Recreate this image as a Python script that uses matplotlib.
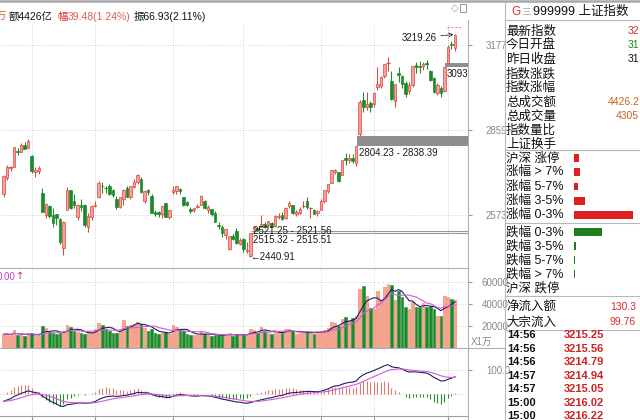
import numpy as np
import pandas as pd
import matplotlib
matplotlib.use('Agg')
import matplotlib.pyplot as plt
from matplotlib.lines import Line2D
from matplotlib.patches import Rectangle
from matplotlib.ticker import NullLocator, FixedLocator, NullFormatter

plt.rcParams['font.family'] = ['Liberation Sans', 'Noto Sans CJK SC', 'DejaVu Sans']

# ---------------- data ----------------
trade_days = {
    '2018-09': [18, 19, 20, 21, 25, 26, 27, 28],
    '2018-10': [8, 9, 10, 11, 12, 15, 16, 17, 18, 19, 22, 23, 24, 25, 26, 29, 30, 31],
    '2018-11': [1, 2, 5, 6, 7, 8, 9, 12, 13, 14, 15, 16, 19, 20, 21, 22, 23, 26, 27, 28, 29, 30],
    '2018-12': [3, 4, 5, 6, 7, 10, 11, 12, 13, 14, 17, 18, 19, 20, 21, 24, 25, 26, 27, 28],
    '2019-01': [2, 3, 4, 7, 8, 9, 10, 11, 14, 15, 16, 17, 18, 21, 22, 23, 24, 25, 28, 29, 30, 31],
    '2019-02': [1, 11, 12, 13, 14, 15, 18, 19, 20, 21, 22, 25, 26, 27, 28],
    '2019-03': [1, 4, 5, 6, 7, 8, 11, 12, 13, 14, 15, 18, 19, 20, 21, 22, 25, 26, 27, 28, 29],
    '2019-04': [1, 2, 3],
}

opens = [2642, 2693, 2728, 2731, 2786, 2783, 2806, 2795,
         2768, 2714, 2717, 2643, 2574, 2600, 2571, 2577, 2560, 2470, 2590, 2653, 2618, 2567, 2604, 2605, 2536, 2567,
         2600, 2630, 2668, 2660, 2668, 2655, 2625, 2598, 2625, 2660, 2630, 2663, 2680, 2690, 2618, 2654, 2635, 2583,
         2582, 2575, 2611, 2565,
         2647, 2649, 2657, 2630, 2613, 2593, 2590, 2599, 2606, 2619, 2590, 2592, 2580, 2541, 2536, 2510, 2465, 2505,
         2523, 2482,
         2498, 2461, 2446, 2529, 2530, 2535, 2543, 2540, 2546, 2537, 2567, 2572, 2562, 2602, 2604, 2575, 2580, 2600,
         2616, 2594, 2590, 2580,
         2589, 2619, 2651, 2678, 2713, 2715, 2702, 2761, 2756, 2760, 2743, 2843, 2968, 2943, 2955,
         2953, 3015, 3021, 3057, 3106, 3038, 2963, 3068, 3057, 3030, 3000, 3024, 3100, 3094, 3096, 3105, 3076, 3051,
         2993, 3010, 3001,
         3107, 3181, 3164]
highs = [2704, 2736, 2734, 2798, 2794, 2812, 2818, 2827,
         2772, 2729, 2733, 2659, 2610, 2604, 2594, 2577, 2563, 2553, 2665, 2653, 2640, 2608, 2625, 2608, 2580, 2604,
         2616, 2683, 2681, 2668, 2675, 2657, 2634, 2630, 2658, 2667, 2668, 2690, 2707, 2696, 2655, 2656, 2640, 2590,
         2584, 2602, 2611, 2588,
         2667, 2667, 2660, 2630, 2619, 2598, 2595, 2608, 2637, 2621, 2606, 2593, 2585, 2550, 2540, 2528, 2507, 2513,
         2531, 2499,
         2500, 2488, 2515.32, 2536, 2531, 2574, 2551, 2555, 2549, 2571, 2579, 2582, 2598, 2618, 2605, 2589, 2597, 2618,
         2630, 2599, 2591, 2590,
         2625, 2654, 2673, 2721, 2723, 2715, 2755, 2780, 2774, 2775, 2804.23, 2969, 2996, 2997, 2965,
         2997, 3090, 3056, 3103, 3129.94, 3075, 3027, 3091, 3059, 3040, 3034, 3097, 3109, 3115, 3110, 3117, 3078, 3055,
         3029, 3020, 3093,
         3176, 3191, 3219.26]
lows = [2631, 2686, 2717, 2730, 2771, 2781, 2791, 2794,
        2710, 2697, 2706, 2583, 2562, 2564, 2536, 2540, 2481, 2449.2, 2590, 2593, 2595, 2557, 2584, 2535, 2520, 2558,
        2598, 2627, 2644, 2643, 2638, 2630, 2593, 2596, 2605, 2630, 2625, 2660, 2675, 2645, 2612, 2637, 2579, 2569,
        2566, 2564, 2566, 2560,
        2640, 2641, 2639, 2602, 2603, 2580, 2583, 2596, 2604, 2592, 2578, 2570, 2549, 2527, 2504, 2497, 2462, 2494,
        2482, 2477,
        2456, 2455, 2440.91, 2515.51, 2521.56, 2533, 2531, 2536, 2533, 2535, 2560, 2557, 2560, 2596, 2577, 2569, 2575,
        2595, 2592, 2564, 2575, 2569,
        2587, 2610, 2645, 2676, 2707, 2680, 2702, 2738, 2745, 2745, 2735, 2838.39, 2924, 2931, 2923,
        2940, 3006, 3011, 3050, 3076, 2969, 2941, 3036, 3011, 2979, 2988, 3015, 3069, 3068, 3080, 3085, 3040, 2993,
        2985, 2980, 2998,
        3106, 3162, 3152.33]
closes = [2699.95, 2730.85, 2729.24, 2797.49, 2781.14, 2806.81, 2791.77, 2821.35,
          2716.51, 2721.01, 2725.84, 2583.46, 2606.91, 2568.10, 2546.33, 2561.61, 2486.42, 2550.47, 2654.88, 2594.83,
          2603.30, 2603.80, 2598.85, 2542.10, 2568.05, 2602.78,
          2606.24, 2676.48, 2665.43, 2659.36, 2641.34, 2635.63, 2598.87, 2630.52, 2654.88, 2632.24, 2668.17, 2679.11,
          2703.51, 2645.43, 2651.51, 2645.85, 2579.48, 2575.81, 2574.68, 2601.74, 2567.44, 2588.19,
          2654.80, 2665.96, 2649.81, 2605.18, 2605.89, 2584.58, 2594.09, 2602.15, 2634.05, 2593.74, 2597.97, 2576.65,
          2549.56, 2536.27, 2516.25, 2527.01, 2504.82, 2498.29, 2483.09, 2493.90,
          2465.29, 2464.36, 2514.87, 2533.09, 2526.46, 2544.34, 2535.10, 2553.83, 2535.77, 2570.42, 2570.34, 2559.64,
          2596.01, 2610.51, 2579.70, 2581.00, 2591.69, 2601.72, 2596.98, 2594.25, 2575.58, 2584.57,
          2618.23, 2653.90, 2671.89, 2721.07, 2719.70, 2682.39, 2754.36, 2755.65, 2761.22, 2751.80, 2804.23, 2961.28,
          2941.52, 2953.82, 2940.95,
          2994.01, 3027.58, 3054.25, 3102.10, 3106.42, 2969.86, 3026.99, 3060.31, 3026.95, 2990.69, 3021.75, 3096.42,
          3090.98, 3090.64, 3101.46, 3104.15, 3043.03, 2997.10, 3022.72, 2994.94, 3090.76,
          3170.36, 3176.82, 3216.22]
volumes = [12500, 13000, 11500, 16000, 12000, 11500, 11000, 12500,
           14000, 11000, 11500, 20000, 18000, 14500, 13500, 12500, 14000, 15500, 21000, 19000, 15000, 14500, 13500,
           13000, 14000, 13500,
           17500, 23000, 21000, 17000, 15500, 13500, 13500, 15000, 25500, 20000, 21000, 22000, 23500, 21500, 18500,
           15500, 17000, 13500, 12500, 14000, 14500, 13000,
           21000, 19000, 16500, 15500, 12500, 12000, 11500, 12000, 15000, 13000, 11500, 11000, 12000, 12000, 12500,
           11000, 13500, 11000, 12500, 12000,
           12500, 12000, 17000, 16500, 14000, 19500, 15500, 14000, 12500, 15500, 14500, 13500, 17000, 17000, 15000,
           12500, 13500, 15000, 15500, 13500, 12500, 14500,
           15500, 16500, 18500, 24000, 22500, 20000, 26000, 28000, 25000, 27500, 29000,
           53500, 56500, 47000, 36000, 35500, 52000, 44000, 55000, 58000, 57000, 43500, 52000, 46500, 37500, 35500,
           41500, 37000, 37000, 40500, 37000, 38500, 35500, 29500, 29000, 47500, 46000, 44500, 43500]

# MACD seeds (state before the first visible day, read from the left edge of the MACD pane)
ema12_seed, ema26_seed, dea_seed = 2680.0, 2715.0, -30.0

price_ticks = [2573, 2859, 3177]
vol_ticks = [20000, 40000, 60000]
macd_ticks = [100]

gaps = [  # (low, high, start index, label)
    (2804.23, 2838.39, 100, '2804.23 - 2838.39'),
    (3093.0, 3106.0, 125, '3093'),
    (2515.32, 2515.51, 70, '2515.32 - 2515.51'),
    (2521.25, 2521.56, 70, '2521.25 - 2521.56'),
]
gap_label_offsets = [-1.5, -1.5, -1.5, 3.5]   # points, vertical offset of each label
low_mark = (70, 2440.91)
high_mark = (128, 3219.26)

title_parts = [('万', '#d0602a'), ('额4426亿', '#111111'), ('幅', '#e02828'),
               ('39.48(1.24%)', '#e05a5a'), ('振66.93(2.11%)', '#111111')]
title_gaps = [0, 0, 4, 0, 4]   # px before each part

info_labels = ['最新指数', '今日开盘', '昨日收盘', '指数涨跌', '指数涨幅', '总成交额', '总成交量', '指数量比', '上证换手']
info_values = ['32', '31', '31', '', '', '4426.2', '4305', '', '']
info_colors = ['#d42a2a', '#1a8a1a', '#111111', '#111111', '#111111', '#c8641e', '#c8641e', '#111111', '#111111']

up_labels = ['沪深 涨停', '涨幅 > 7%', '涨幅 5-7%', '涨幅 3-5%', '涨幅 0-3%']
up_counts = [53, 64, 42, 117, 625]
down_labels = ['跌幅 0-3%', '跌幅 3-5%', '跌幅 5-7%', '跌幅 > 7%', '沪深 跌停']
down_counts = [297, 21, 8, 6, 5]

flow_labels = ['净流入额', '大宗流入']
flow_values = ['130.3', '99.76']

tick_times = ['14:56', '14:56', '14:56', '14:57', '14:57', '15:00', '15:00']
tick_prices = ['3215.25', '3215.56', '3214.79', '3214.94', '3215.05', '3216.02', '3216.22']

# ---------------- derived ----------------
dates = []
for ym, days in trade_days.items():
    for d in days:
        dates.append(pd.Timestamp(f'{ym}-{d:02d}'))
dates = pd.DatetimeIndex(dates)
o = np.array(opens, float); h = np.array(highs, float)
l = np.array(lows, float); c = np.array(closes, float)
v = np.array(volumes, float)
n = len(c)
x = np.arange(n)
month_starts = [i for i in range(1, n) if dates[i].month != dates[i - 1].month]

ema12, ema26, dea = ema12_seed, ema26_seed, dea_seed
difs, deas = [], []
for cc in c:
    ema12 += (cc - ema12) * 2 / 13
    ema26 += (cc - ema26) * 2 / 27
    dif = ema12 - ema26
    dea += (dif - dea) * 2 / 10
    difs.append(dif); deas.append(dea)
difs = np.array(difs); deas = np.array(deas)
hist = 2 * (difs - deas)

ma5 = pd.Series(v).rolling(5, min_periods=1).mean()
ma10 = pd.Series(v).rolling(10, min_periods=1).mean()

# ---------------- figure ----------------
W, H = 640, 420
fig = plt.figure(figsize=(6.4, 4.2), dpi=100)
fig.patch.set_facecolor('white')
renderer = fig.canvas.get_renderer()


def FX(px):
    return px / W


def FY(py):
    return 1 - py / H


def fline(x0, y0, x1, y1, color='#b4b4b4', lw=0.8, ls='-'):
    fig.add_artist(Line2D([FX(x0), FX(x1)], [FY(y0), FY(y1)], color=color, lw=lw, ls=ls))


RIGHT = 468
XLIM = (-1.0, 131.7)
UP_EDGE, UP_FACE, DN = '#e0443c', '#f5a09a', '#1c8a2a'
GRID = dict(color='#c4c4c4', lw=0.6, ls=(0, (1, 2)))

ax = fig.add_axes([0, FY(268), FX(RIGHT), (268 - 24) / H])
axv = fig.add_axes([0, FY(348), FX(RIGHT), (348 - 268) / H])
axm = fig.add_axes([0, FY(416), FX(RIGHT), (416 - 348) / H])

for a in (ax, axv, axm):
    a.set_xlim(*XLIM)
    for s in a.spines.values():
        s.set_visible(False)
    a.set_xticks([])
    a.yaxis.tick_right()
    a.tick_params(axis='y', length=3, color='#999999', labelcolor='#888888', labelsize=7)
    for m in month_starts:
        a.axvline(m, zorder=0, **GRID)

# price pane
ax.set_yscale('log')
ax.set_ylim(2408.7, 3260.9)
ax.yaxis.set_minor_locator(NullLocator())
ax.yaxis.set_minor_formatter(NullFormatter())
ax.yaxis.set_major_locator(FixedLocator(price_ticks))
ax.set_yticklabels([str(t) for t in price_ticks])
ax.tick_params(axis='y', pad=10)
for t in price_ticks:
    ax.axhline(t, zorder=0, **GRID)

up = c >= o
edge_cols = np.where(up, UP_EDGE, DN)
face_cols = np.where(up, UP_FACE, DN)
ax.vlines(x, l, h, colors=edge_cols, lw=0.75, zorder=2)
ax.bar(x, np.abs(c - o), bottom=np.minimum(o, c), width=0.72, color=face_cols,
       edgecolor=edge_cols, linewidth=0.5, zorder=3)
doji = np.abs(c - o) < 2.0
ax.hlines(c[doji], x[doji] - 0.45, x[doji] + 0.45, colors=edge_cols[doji], lw=0.8, zorder=3)

for (lo, hi, i0, lab), dy in zip(gaps, gap_label_offsets):
    if hi - lo > 5:
        ax.fill_between([i0 + 0.3, XLIM[1]], lo, hi, color='#8e8e8e', lw=0, zorder=1)
    else:
        ax.hlines((lo + hi) / 2, i0 + 0.3, XLIM[1], color='#9a9a9a', lw=0.8, zorder=1)
    ax.annotate(lab, xy=(i0 + 0.3, lo), xytext=(1, dy), textcoords='offset points',
                va='top', ha='left', fontsize=7, color='#1a1a1a')

ax.annotate('←' + f'{low_mark[1]:.2f}', xy=low_mark, xytext=(0, 0), textcoords='offset points',
            va='center', ha='left', fontsize=7, color='#1a1a1a')
ax.annotate(f'{high_mark[1]:.2f}', xy=high_mark, xytext=(-13, -2.5), textcoords='offset points',
            va='center', ha='right', fontsize=7, color='#1a1a1a',
            arrowprops=dict(arrowstyle='->', color='#222222', lw=0.6, ls=(0, (2, 1)),
                            shrinkA=1, shrinkB=1))

# volume pane
axv.set_ylim(0, 72700)
axv.yaxis.set_major_locator(FixedLocator(vol_ticks))
axv.set_yticklabels([str(t) for t in vol_ticks])
axv.tick_params(axis='y', pad=7)
for t in vol_ticks:
    axv.axhline(t, zorder=0, **GRID)
vface = np.where(up, '#f6a68f', DN)
vedge = np.where(up, '#ee7a66', DN)
axv.bar(x, v, width=0.72, color=vface, edgecolor=vedge, linewidth=0.4, zorder=2)
axv.plot(x, ma5, color='#1e1e66', lw=0.8, zorder=3)
axv.plot(x, ma10, color='#d45ad4', lw=0.8, zorder=3)

# MACD pane
axm.set_ylim(-91.7, 191.7)
axm.yaxis.set_major_locator(FixedLocator(macd_ticks))
axm.set_yticklabels(['100.0'])
axm.tick_params(axis='y', pad=10)
axm.axhline(0, zorder=0, **GRID)
axm.axhline(100, zorder=0, **GRID)
axm.vlines(x, 0, hist, colors=np.where(hist >= 0, '#e0786e', '#2a8a2a'), lw=0.8, zorder=2)
axm.plot(x, difs, color='#1e1e66', lw=0.8, zorder=3)
axm.plot(x, deas, color='#d45ad4', lw=0.8, zorder=3)
axm.spines['bottom'].set_visible(True)
axm.spines['bottom'].set_color('#a0a0a0')
axm.set_xticks(month_starts)
axm.tick_params(axis='x', length=3, color='#999999', labelbottom=False)

# frame lines
fline(0, 1.2, W, 1.2, color='#a8a8a8', lw=1.8)
fline(RIGHT, 20, RIGHT, 420, color='#b0b0b0')
fline(0, 268, RIGHT, 268, color='#b0b0b0')
fline(0, 348, 505, 348, color='#b0b0b0')
fline(505, 3, 505, 420, color='#b8b8b8')
fline(505, 20, W, 20, color='#b8b8b8')
for yy in (150, 223, 296, 330):
    fline(505, yy, W, yy, color='#b8b8b8')
fline(447, 27, 461, 27, color='#e070a0', lw=0.7, ls=(0, (2, 2)))
fline(448, 27, 448, 62, color='#e070a0', lw=0.6, ls=(0, (1, 2)))

# title strip (parts chained by their measured widths)
px = -4
for (txt, col), gap in zip(title_parts, title_gaps):
    if txt == '额4426亿':
        px = 9
    px += gap
    t = fig.text(FX(px), FY(17), txt, color=col, fontsize=7.5, va='center', ha='left')
    px = t.get_window_extent(renderer).x1

fig.text(FX(455), FY(8), '◇', color='#999999', fontsize=7, va='center', ha='center',
         family='DejaVu Sans')
fig.add_artist(Rectangle((FX(460), FY(12)), 6 / W, 8 / H, fill=False, ec='#999999', lw=0.7))
fig.text(FX(15), FY(277), '0.00', color='#c040c0', fontsize=7, va='center', ha='right')
fig.text(FX(15.5), FY(276), '↑', color='#e02828', fontsize=7, va='center', ha='left',
         family='DejaVu Sans')
fig.text(FX(471), FY(342), 'X1万', color='#888888', fontsize=7, va='center', ha='left')

# right info panel
cjk = 'Noto Sans CJK SC'
fig.text(FX(511), FY(12), 'G', color='#e03030', fontsize=8.5, va='center', ha='left')
fig.text(FX(521), FY(12), '三', color='#aaaaaa', fontsize=7, va='center', ha='left', family=cjk)
fig.text(FX(533), FY(12), '999999 上证指数', color='#111111', fontsize=9, va='center', ha='left')

for k, (lab, val, col) in enumerate(zip(info_labels, info_values, info_colors)):
    yy = 31 + 14.2 * k
    fig.text(FX(506), FY(yy), lab, fontsize=9, va='center', ha='left', color='#111111', family=cjk)
    if val:
        xpos = 628 if len(val) <= 2 else (608 if '.' in val else 616)
        fig.text(FX(xpos), FY(yy), val, fontsize=7.5, va='center', ha='left', color=col)

for k, lab in enumerate(up_labels):
    fig.text(FX(506), FY(158 + 14.25 * k), lab, fontsize=9, va='center', ha='left', color='#111111')
for k, lab in enumerate(down_labels):
    fig.text(FX(506), FY(232 + 14 * k), lab, fontsize=9, va='center', ha='left', color='#111111')

axu = fig.add_axes([FX(574), FY(222.1), 66 / W, 71.25 / H])
axd = fig.add_axes([FX(574), FY(295), 66 / W, 70 / H])
for a, vals, col in ((axu, up_counts, '#e02020'), (axd, down_counts, '#1e7e1e')):
    a.barh(np.arange(len(vals)), vals, height=0.55, color=col, lw=0)
    a.set_xlim(0, 700)
    a.set_ylim(4.5, -0.5)
    a.axis('off')

for k, (lab, val) in enumerate(zip(flow_labels, flow_values)):
    yy = 307 + 15 * k
    fig.text(FX(506), FY(yy), lab, fontsize=9, va='center', ha='left', color='#111111', family=cjk)
    fig.text(FX(610), FY(yy), val, fontsize=7.5, va='center', ha='left', color='#d42a2a')

for k, (tt, pp) in enumerate(zip(tick_times, tick_prices)):
    yy = 335.5 + 13.4 * k
    fig.text(FX(507), FY(yy), tt, fontsize=8, va='center', ha='left', color='#111111', weight='bold')
    fig.text(FX(564), FY(yy), pp, fontsize=8, va='center', ha='left', color='#cc2222', weight='bold')

fig.savefig('out.png', dpi=100)
